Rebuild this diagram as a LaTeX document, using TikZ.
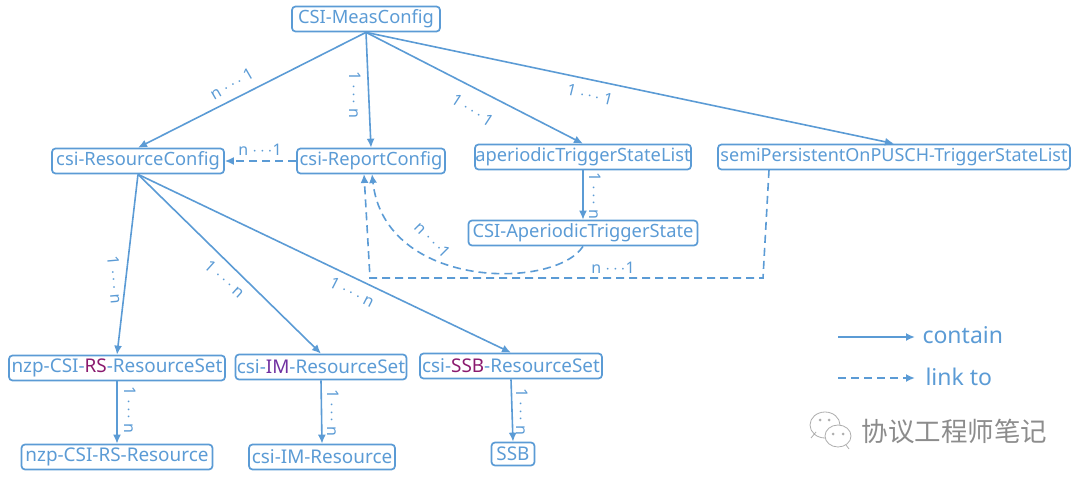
\documentclass[tikz,border=0pt]{standalone}
\usepackage{fontspec}
\setmainfont{Noto Sans}
\newfontfamily\cjkfont{Noto Sans CJK SC}
\usetikzlibrary{arrows.meta}
\definecolor{linkblue}{HTML}{5B9BD5}
\definecolor{rsred}{HTML}{8A1A6E}
\definecolor{imviolet}{HTML}{7030A0}
\definecolor{markgray}{HTML}{8C8C8C}
\begin{document}
\begin{tikzpicture}[x=1pt,y=-1pt,
    every node/.style={text=linkblue, font=\fontsize{18.3}{20}\selectfont},
    cfgbox/.style={draw=linkblue, line width=1.7pt, rounded corners=3.5pt, inner xsep=0pt, inner ysep=0pt, minimum height=25pt},
    setbox/.style={cfgbox, font=\fontsize{18.9}{20}\selectfont},
    contain/.style={draw=linkblue, line width=1.6pt, -{Latex[length=9pt,width=8pt]}},
    linkto/.style={draw=linkblue, line width=1.6pt, dash pattern=on 8pt off 5pt, -{Latex[length=9pt,width=8pt]}},
    mult/.style={font=\fontsize{16}{18}\selectfont}]
    \useasboundingbox (0,0) rectangle (1080,479);
    % config boxes
    \node[cfgbox, minimum width=148pt] (meas) at (366,19) {CSI-MeasConfig};
    \node[cfgbox, minimum width=172pt] (res) at (138,161) {csi-ResourceConfig};
    \node[cfgbox, minimum width=148pt] (report) at (371,161) {csi-ReportConfig};
    \node[cfgbox, minimum width=216pt] (aplist) at (583,157) {aperiodicTriggerStateList};
    \node[cfgbox, minimum width=352pt, font=\fontsize{18}{20}\selectfont] (semilist) at (894,157) {semiPersistentOnPUSCH-TriggerStateList};
    \node[cfgbox, minimum width=229pt] (apstate) at (583,233) {CSI-AperiodicTriggerState};
    % resource sets
    \node[setbox, minimum width=216pt] (nzpset) at (117,368) {nzp-CSI-\textcolor{rsred}{RS}-ResourceSet};
    \node[setbox, minimum width=171pt] (imset) at (321,367) {csi-\textcolor{imviolet}{IM}-ResourceSet};
    \node[setbox, minimum width=182pt] (ssbset) at (511,366) {csi-\textcolor{rsred}{SSB}-ResourceSet};
    \node[setbox, minimum width=191pt] (nzpres) at (117,457) {nzp-CSI-RS-Resource};
    \node[setbox, minimum width=146pt] (imres) at (322,457) {csi-IM-Resource};
    \node[setbox, minimum width=43pt, minimum height=23pt] (ssb) at (513,454) {SSB};
    % contain
    \draw[contain] (meas.south) -- (res.north);
    \draw[contain] (meas.south) -- (report.north);
    \draw[contain] (meas.south) -- (aplist.north);
    \draw[contain] (meas.south) -- (semilist.north);
    \draw[contain] (aplist.south) -- (apstate.north);
    \draw[contain] (res.south) -- (nzpset.north);
    \draw[contain] (res.south) -- (imset.north);
    \draw[contain] (res.south) -- (ssbset.north);
    \draw[contain] (nzpset.south) -- (nzpres.north);
    \draw[contain] (imset.south) -- (imres.north);
    \draw[contain] (ssbset.south) -- (ssb.north);
    % link to
    \coordinate (semiout) at (769,170);
    \coordinate (semicorner) at (763,278);
    \coordinate (reportcorner) at (370,278);
    \coordinate (reportin) at (364,174);
    \coordinate (reportin2) at (372,174);
    \draw[linkto] (report.west) -- (res.east);
    \draw[linkto] (apstate.south) .. controls (555,290) and (385,290) .. (reportin2);
    \draw[linkto] (semiout) -- (semicorner) -- (reportcorner) -- (reportin);
    % multiplicity
    \node[mult, rotate=30] (m1) at (232,84) {n $\cdots$ 1};
    \node[mult, rotate=-90] (m2) at (355,95) {1 $\cdots$ n};
    \node[mult, rotate=-33] (m3) at (473,110) {1 $\cdots$ 1};
    \node[mult, rotate=-14] (m4) at (590,95) {1 $\cdots$ 1};
    \node[mult] (m5) at (260,150) {n $\cdots$1};
    \node[mult, rotate=-90] (m6) at (595,196) {1 $\cdots$ n};
    \node[mult, rotate=-45] (m7) at (433,240) {n $\cdots$1};
    \node[mult] (m8) at (613,268) {n $\cdots$1};
    \node[mult, rotate=-85] (m9) at (115,280) {1 $\cdots$ n};
    \node[mult, rotate=-42] (m10) at (225,279) {1 $\cdots$ n};
    \node[mult, rotate=-27] (m11) at (352,292) {1 $\cdots$ n};
    \node[mult, rotate=-90] (m12) at (130,410) {1 $\cdots$ n};
    \node[mult, rotate=-90] (m13) at (333,413) {1 $\cdots$ n};
    \node[mult, rotate=-90] (m14) at (522,412) {1 $\cdots$ n};
    % legend
    \coordinate (legA) at (838,337);
    \coordinate (legB) at (915,337);
    \coordinate (legC) at (838,378);
    \coordinate (legD) at (915,378);
    \draw[contain, line width=2pt] (legA) -- (legB);
    \draw[linkto, line width=2pt] (legC) -- (legD);
    \node[anchor=west, font=\fontsize{23}{25}\selectfont] (contain) at (919,335) {contain};
    \node[anchor=west, font=\fontsize{23}{25}\selectfont] (linkto) at (922,377) {link to};
    % watermark
    \draw[markgray!70, line width=0.8pt, fill=white] (811,438) -- (816,432) (825,425) ellipse (15 and 13);
    \draw[markgray!70, line width=0.8pt, fill=white] (838,436) ellipse (13 and 11);
    \draw[markgray!70, line width=0.8pt] (846,445) -- (849,449);
    \fill[markgray!70] (820,420) circle (1.5) (829,420) circle (1.5) (833,434) circle (1.5) (843,434) circle (1.5);
    \node[anchor=west, text=markgray, font=\cjkfont\fontsize{26.5}{28}\selectfont] (mark) at (858,431) {协议工程师笔记};
\end{tikzpicture}
\end{document}
